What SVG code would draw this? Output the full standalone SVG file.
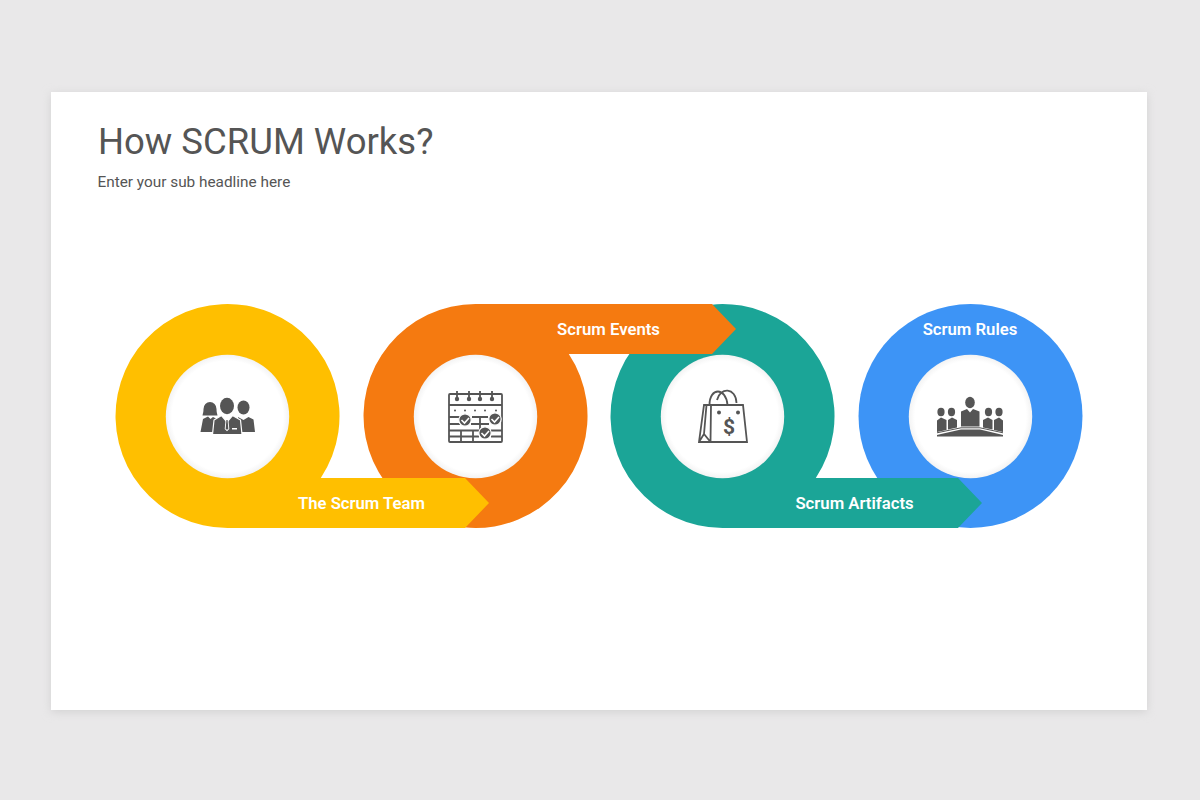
<svg xmlns="http://www.w3.org/2000/svg" width="1200" height="800" viewBox="0 0 1200 800">
<style>
.lbl{font-family:Roboto,"Liberation Sans",sans-serif;font-weight:600;font-size:16.700px;fill:#fff;text-anchor:middle}
.ic{fill:#555}
.ln{fill:none;stroke:#555;stroke-width:1.800}
.hole{fill:url(#hole)}
</style>
<defs>
<radialGradient id="hole"><stop offset="0.9" stop-color="#fff"/><stop offset="1" stop-color="#f3f3f3"/></radialGradient>
<filter id="sh" x="-5%" y="-5%" width="110%" height="110%"><feGaussianBlur stdDeviation="5"/></filter>
</defs>
<rect width="1200" height="800" fill="#e9e8e9"/>
<rect x="51" y="94" width="1096" height="618" fill="#d2d1d2" filter="url(#sh)"/>
<rect x="51" y="92" width="1096" height="618" fill="#fff"/>
<text x="98" y="154" font-family="Roboto,'Liberation Sans',sans-serif" font-size="36.500" fill="#555">How SCRUM Works?</text>
<text x="97.500" y="187" font-family="Roboto,'Liberation Sans',sans-serif" font-size="15.350" fill="#555">Enter your sub headline here</text>

<g id="node-rules">
<circle cx="970.500" cy="416" r="112" fill="#3d94f6"/>
<circle class="hole" cx="970.500" cy="416.500" r="61.700"/>
<text class="lbl" x="970" y="335">Scrum Rules</text>
<g id="icon-rules" class="ic">
<ellipse cx="970" cy="402.500" rx="4.800" ry="5.800"/>
<path d="M961 426.500V411.500l6-2.500 3 3.500 3-3.500 6.500 2.500v15z"/>
<ellipse cx="941" cy="412" rx="3.600" ry="4.200"/><ellipse cx="951.500" cy="412" rx="3.600" ry="4.200"/><ellipse cx="988.500" cy="412" rx="3.600" ry="4.200"/><ellipse cx="999" cy="412" rx="3.600" ry="4.200"/>
<path d="M937 432V420.500l4-3 5.500 2.500v10zM948 429.500V420l4-2.500 5 2.500v7.500zM983 427.500V420l5-2.500 4.500 2.500v9.500zM994 430V420l5-2.500 4 3V432z"/>
<path d="M937 436.500v-1.500q2-.5 4-1l20-4.500h19l19 4.500 4 1v1.500z"/>
<path d="M937 432.800L961 427.800H980L1003 432.800" fill="none" stroke="#555" stroke-width="1"/>
</g>
</g>

<g id="node-artifacts">
<path fill="#1ba597" d="M815.800 478A112 112 0 1 0 722.500 528H958L982 503 958 478z"/>
<circle class="hole" cx="722.500" cy="416.500" r="61.700"/>
<text class="lbl" x="854.500" y="509">Scrum Artifacts</text>
<g id="icon-artifacts">
<path class="ln" d="M711 405H743L747 442H699L704 405H711ZM711 405L710.500 442M706.500 405L704 434 699 442M704 434L710.500 442"/>
<path class="ln" stroke-width="1.400" d="M709.500 405C709.500 387 726 387 727.500 405M717 400C720 387 736 387 736.500 403"/>
<circle class="ic" cx="719" cy="412.500" r="2"/><circle class="ic" cx="738" cy="412.500" r="2"/>
<text x="729" y="434" font-family="Roboto,'Liberation Sans',sans-serif" font-weight="700" font-size="21" fill="#555" text-anchor="middle">$</text>
</g>
</g>

<g id="node-events">
<path fill="#f57a10" d="M568.800 354A112 112 0 1 1 475.500 304H712L736 329 712 354z"/>
<circle class="hole" cx="475.500" cy="416.500" r="61.700"/>
<text class="lbl" x="608.500" y="335">Scrum Events</text>
<g id="icon-events">
<rect class="ln" x="449" y="394" width="53" height="48" rx="1"/>
<path class="ln" d="M449 405H502M449 417H460M472 417H488M449 424H460M471 424H489M449 430.500H479M491 430.500H502M449 436.500H479M491 436.500H502M461 430V441M473 430V441M480 417V430"/>
<path class="ln" d="M457 391V400M469 391V400M480 391V400M492 391V400"/>
<g class="ic">
<circle cx="457" cy="399" r="2.200"/><circle cx="469" cy="399" r="2.200"/><circle cx="480" cy="399" r="2.200"/><circle cx="492" cy="399" r="2.200"/>
<circle cx="455" cy="410.500" r="1"/><circle cx="465" cy="410.500" r="1"/><circle cx="475" cy="410.500" r="1"/><circle cx="485" cy="410.500" r="1"/><circle cx="496" cy="410.500" r="1"/>
<g stroke="#fff" stroke-width="1.200"><circle cx="465" cy="420" r="6.200"/><circle cx="495" cy="419" r="6.200"/><circle cx="485" cy="433" r="6.200"/></g>
</g>
<path d="M461.500 420l3 3 4.500-5M491.500 419l3 3 4.500-5M481.500 433l3 3 4.500-5" fill="none" stroke="#fff" stroke-width="1.600"/>
</g>
</g>

<g id="node-team">
<path fill="#ffbf00" d="M320.800 478A112 112 0 1 0 227.500 528H465L489 503 465 478z"/>
<circle class="hole" cx="227.500" cy="416.500" r="61.700"/>
<text class="lbl" x="361.500" y="509">The Scrum Team</text>
<g id="icon-team">
<path class="ic" d="M200.500 432L203 419 208 416.500 210.500 419 213 417 217 419 214 432z"/>
<path class="ic" d="M203.500 409a6.500 7 0 0 1 13 0c0 3 .5 4 1 6.500h-15c.5-2.500 1-3.500 1-6.500z"/>
<ellipse class="ic" cx="243.500" cy="407.500" rx="6" ry="7"/>
<path class="ic" d="M238 417l5.500 3 5-3 5 2.500 1.500 12.500H240z"/>
<path class="ic" d="M212.500 434.500L214 420 221.500 415.500 227 422 232.500 415.500 240.500 420 242 434.500z" stroke="#fff" stroke-width="1.200"/>
<ellipse class="ic" cx="227" cy="406" rx="7" ry="8.200"/>
<path d="M225.800 418h2.400l1.100 11-2.300 2.200-2.300-2.200z" fill="#fff"/><path d="M226.400 420h1.200l.7 8.500-1.300 1.500-1.300-1.500z" fill="#555"/>
<rect x="232" y="428" width="5" height="1.500" fill="#fff"/>
</g>
</g>
</svg>
